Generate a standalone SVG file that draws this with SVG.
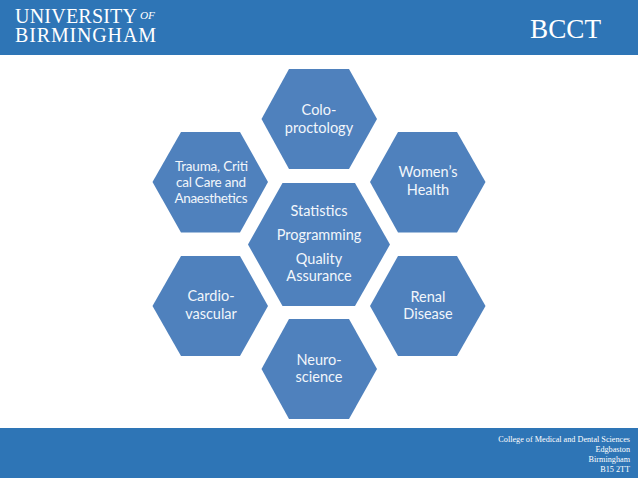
<svg xmlns="http://www.w3.org/2000/svg" width="638" height="479" viewBox="0 0 638 479">
<style>
.hex{fill:#4f81bd}
.bar{fill:#2e75b6}
.t{font-family:"Lato","Open Sans",sans-serif;font-size:14.5px;fill:#f2f6fb;text-anchor:middle}
.m{font-size:13.5px}
.s{font-family:"Liberation Serif",serif;fill:#fff}
</style>
<rect width="638" height="479" fill="#fff"/>
<rect class="bar" width="638" height="55"/>
<rect class="bar" y="428" width="638" height="50"/>
<g id="header">
<text class="s" x="15" y="23" font-size="20" textLength="122" lengthAdjust="spacing">UNIVERSITY</text>
<text class="s" x="140" y="19" font-size="11" font-style="italic" textLength="15" lengthAdjust="spacingAndGlyphs">OF</text>
<text class="s" x="15" y="41.500" font-size="20" textLength="141" lengthAdjust="spacing">BIRMINGHAM</text>
<text class="s" x="530" y="37.500" font-size="27" textLength="71" lengthAdjust="spacingAndGlyphs">BCCT</text>
</g>
<g id="footer" class="s" font-size="8.200" text-anchor="end">
<text x="630" y="441.500">College of Medical and Dental Sciences</text>
<text x="630" y="452">Edgbaston</text>
<text x="630" y="462">Birmingham</text>
<text x="630" y="472">B15 2TT</text>
</g>
<g id="connectors"></g>
<g id="colo">
<polygon class="hex" points="289,69 349,69 377,119 349,169 289,169 261.500,119"/>
<text class="t" x="319" y="115">Colo-</text><text class="t" x="319" y="133">proctology</text>
</g>
<g id="trauma">
<polygon class="hex" points="181,132 240,132 268,182 240,232.500 181,232.500 152.500,182"/>
<text class="t m" x="211.500" y="171" textLength="73" lengthAdjust="spacing">Trauma, Criti</text>
<text class="t m" x="211" y="186.500" textLength="70" lengthAdjust="spacing">cal Care and</text>
<text class="t m" x="211" y="202.500" textLength="73" lengthAdjust="spacing">Anaesthetics</text>
</g>
<g id="womens">
<polygon class="hex" points="398,132 457,132 485.500,182 457,232.500 398,232.500 370,182"/>
<text class="t" x="428" y="177">Women’s</text><text class="t" x="428" y="195">Health</text>
</g>
<g id="center">
<polygon class="hex" points="282.500,183 355,183 390,244.500 355,306 282.500,306 248,244.500"/>
<text class="t" x="319" y="216">Statistics</text>
<text class="t" x="319" y="240">Programming</text>
<text class="t" x="319" y="264">Quality</text>
<text class="t" x="319" y="281">Assurance</text>
</g>
<g id="cardio">
<polygon class="hex" points="181,256 240,256 268,306 240,356 181,356 152.500,306"/>
<text class="t" x="211" y="301">Cardio-</text><text class="t" x="211" y="319">vascular</text>
</g>
<g id="renal">
<polygon class="hex" points="398,256 457,256 485.500,306 457,356 398,356 370,306"/>
<text class="t" x="428" y="302">Renal</text><text class="t" x="428" y="319">Disease</text>
</g>
<g id="neuro">
<polygon class="hex" points="289,319 349,319 377,369 349,419 289,419 261.500,369"/>
<text class="t" x="319" y="365">Neuro-</text><text class="t" x="319" y="382">science</text>
</g>
</svg>
